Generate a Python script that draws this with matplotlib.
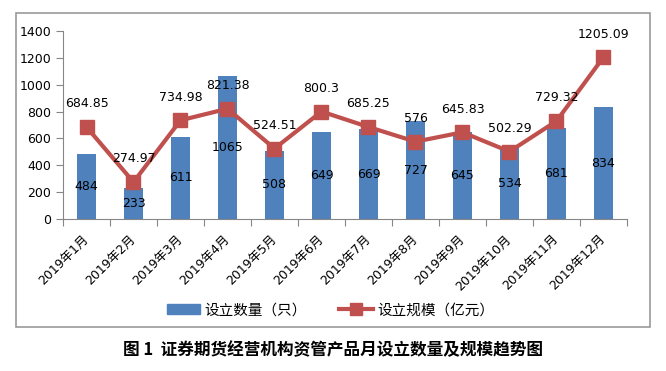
import matplotlib
matplotlib.use("Agg")
import matplotlib.pyplot as plt
from matplotlib.patches import Rectangle
from matplotlib.lines import Line2D
from matplotlib.patches import Patch

plt.rcParams['font.family'] = ['Noto Sans CJK SC', 'DejaVu Sans']

months = ['2019年%d月' % m for m in range(1, 13)]
counts = [484, 233, 611, 1065, 508, 649, 669, 727, 645, 534, 681, 834]
scale = [684.85, 274.97, 734.98, 821.38, 524.51, 800.3, 685.25, 576, 645.83, 502.29, 729.32, 1205.09]
scale_labels = ['684.85', '274.97', '734.98', '821.38', '524.51', '800.3', '685.25',
                '576', '645.83', '502.29', '729.32', '1205.09']

bar_color = '#4F81BD'
line_color = '#C0504D'
axis_gray = '#868686'

fig = plt.figure(figsize=(6.66, 3.71), dpi=100)
# outer frame of the chart
fig.patches.append(Rectangle((0.024, 0.119), 0.952, 0.846, transform=fig.transFigure,
                             fill=False, edgecolor='#999999', linewidth=1.2))

ax = fig.add_axes([0.0946, 0.4097, 0.8468, 0.5067])
x = list(range(len(months)))
ax.bar(x, counts, width=0.42, color=bar_color, zorder=2)
ax.plot(x, scale, color=line_color, linewidth=3, marker='s', markersize=10, zorder=3)

for i in x:
    ax.text(i, counts[i] / 2, str(counts[i]), ha='center', va='center', fontsize=9,
            family='DejaVu Sans', zorder=4)
    ax.annotate(scale_labels[i], (i, scale[i]), xytext=(0, 12), textcoords='offset points',
                ha='center', va='bottom', fontsize=9, family='DejaVu Sans', zorder=4)

ax.set_xlim(-0.5, 11.5)
ax.set_ylim(0, 1400)
ax.set_yticks(range(0, 1401, 200))
ax.set_xticks([i + 0.5 for i in range(-1, 12)], minor=False)
ax.set_xticklabels([])
ax.set_xticks(x, minor=True)
ax.set_xticklabels(months, minor=True, rotation=45, ha='right', va='center',
                   rotation_mode='anchor', fontsize=9,
                   family=['DejaVu Sans', 'Noto Sans CJK SC'])
ax.tick_params(axis='x', which='minor', length=0, pad=13)
ax.tick_params(axis='x', which='major', length=5, direction='out', color=axis_gray)
ax.tick_params(axis='y', length=5, direction='out', color=axis_gray, labelsize=9)
for t in ax.get_yticklabels():
    t.set_family('DejaVu Sans')

for s in ['top', 'right']:
    ax.spines[s].set_visible(False)
for s in ['left', 'bottom']:
    ax.spines[s].set_color(axis_gray)

handles = [Patch(color=bar_color, label='设立数量（只）'),
           Line2D([0], [0], color=line_color, linewidth=3, marker='s', markersize=8,
                  label='设立规模（亿元）')]
fig.legend(handles=handles, loc='center', bbox_to_anchor=(0.496, 0.164), ncol=2,
           frameon=False, fontsize=10.5, handlelength=2.3, handletextpad=0.3,
           columnspacing=2.2)

fig.text(0.5, 0.057, '图 1  证券期货经营机构资管产品月设立数量及规模趋势图', ha='center',
         va='center', fontsize=12, fontweight='bold')

fig.savefig('out.png', dpi=100)
